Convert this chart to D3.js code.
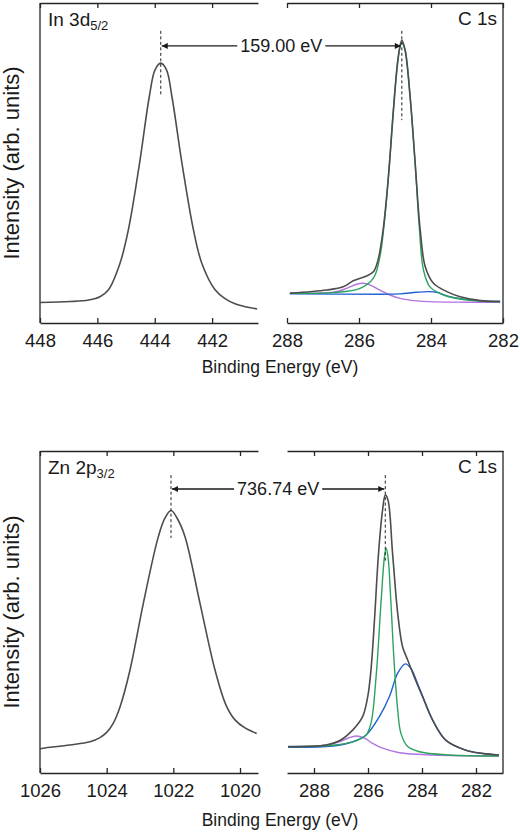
<!DOCTYPE html>
<html>
<head>
<meta charset="utf-8">
<script src="https://cdn.jsdelivr.net/npm/d3@7"></script>
<style>
  body { margin: 0; background: #fff; }
  text { font-family: "Liberation Sans", Arial, sans-serif; fill: #1a1a1a; }
</style>
</head>
<body>
<div id="chart"></div>
<script>
// Binding energy [eV], intensity (arb. units, 0-100 per row)
var in3d = [[448.0,6.4],[446.95,6.7],[446.3,7.2],[445.91,8.2],[445.62,10.3],[445.21,18.7],[444.92,29.1],
  [444.53,49.9],[444.19,70.7],[443.99,79.1],[443.79,81.2],[443.59,79.1],[443.40,70.7],
  [443.05,49.9],[442.65,29.1],[442.36,18.7],[441.89,10.3],[441.55,7.6],[441.2,6.0],[440.8,5.0],[440.43,4.4]];

var c1sTopEnv = [[287.92,9.3],[286.90,10.3],[286.44,11.3],[286.16,13.2],[285.79,14.7],[285.60,16.0],
  [285.47,19.7],[285.33,29.1],[285.19,44.7],[285.05,65.5],[284.91,83.2],[284.81,88.4],[284.72,85.3],
  [284.58,70.7],[284.44,49.9],[284.30,29.1],[284.16,17.6],[283.93,12.4],[283.56,9.8],[283.19,8.2],
  [282.63,7.0],[282.08,6.7]];
var c1sTopCC = [[287.92,9.3],[286.72,9.5],[285.97,10.8],[285.60,14.0],[285.42,20.7],[285.28,33.2],
  [285.14,52.0],[285.00,72.8],[284.86,86.3],[284.81,87.6],[284.72,85.3],[284.58,70.7],[284.44,49.9],
  [284.32,29.1],[284.21,16.6],[284.03,11.3],[283.65,8.75],[283.00,7.2],[282.08,6.7]];
var c1sTopLow = [[287.92,9.1],[285.33,9.0],[284.86,9.1],[284.40,9.6],[284.07,9.8],[283.84,9.6],
  [283.56,8.5],[283.19,7.6],[282.72,7.0],[282.08,6.7]];
var c1sTopHigh = [[287.92,9.3],[286.72,9.6],[286.35,10.8],[286.07,12.1],[285.88,12.4],[285.70,11.9],
  [285.42,10.3],[285.14,8.75],[284.86,7.7],[284.40,6.9],[283.93,6.6],[283.00,6.5],[282.08,6.5]];

var zn2p = [[1026.0,7.5],[1025.90,7.7],[1025.10,8.7],[1024.50,9.7],[1024.20,11.0],[1024.0,12.6],
  [1023.8,15.5],[1023.6,20.5],[1023.30,32.0],[1022.90,52.7],[1022.45,73.4],[1022.25,79.2],[1022.07,81.5],
  [1021.89,79.2],[1021.65,73.4],[1021.20,52.7],[1020.75,32.0],[1020.42,21.1],[1020.15,16.5],
  [1019.85,14.0],[1019.50,12.3]];

var c1sBotEnv = [[288.96,8.2],[287.55,8.7],[287.06,10.0],[286.56,13.4],[286.20,17.5],[286.01,23.7],
  [285.89,32.0],[285.76,47.5],[285.61,68.2],[285.46,81.7],[285.36,86.3],[285.26,84.8],[285.09,68.2],
  [284.90,49.6],[284.72,39.2],[284.53,35.1],[284.29,29.9],[283.98,23.7],[283.61,16.5],[283.12,10.2],
  [282.38,7.1],[281.77,6.1],[281.15,5.6]];
var c1sBotCC = [[288.96,8.2],[287.30,8.6],[286.44,10.0],[286.07,11.8],[285.89,15.4],[285.70,29.9],
  [285.52,52.7],[285.39,67.2],[285.33,69.8],[285.26,67.2],[285.15,52.7],[285.03,34.1],[284.90,19.6],
  [284.78,12.3],[284.53,8.2],[284.10,6.6],[283.0,5.6],[281.15,5.3]];
var c1sBotLow = [[288.96,8.0],[287.30,8.4],[286.56,9.7],[286.07,11.8],[285.58,17.5],[285.21,23.7],
  [284.90,31.0],[284.62,33.9],[284.41,32.5],[284.17,27.9],[283.92,22.7],[283.61,16.5],[283.12,10.2],
  [282.38,7.1],[281.77,6.1],[281.15,5.6]];
var c1sBotHigh = [[288.96,8.2],[287.55,8.6],[287.06,9.7],[286.75,10.8],[286.44,11.5],[286.13,10.8],
  [285.83,9.2],[285.46,7.7],[284.84,6.3],[283.61,5.6],[281.15,5.3]];

// tick values per panel
var topLeftTicks = [448, 446, 444, 442];
var topRightTicks = [288, 286, 284, 282];
var botLeftTicks = [1026, 1024, 1022, 1020];
var botRightTicks = [288, 286, 284, 282];

// peak markers and energy separations
var corePeaks = [443.79, 1022.07];
var carbonPeaks = [284.81, 285.36];
var shiftLabels = ["159.00 eV", "736.74 eV"];
var arrowLevels = [86.6, 88.2];
var dashTops = [91.3, 92.5];
var coreDashBottoms = [71.3, 73.0];
var carbonDashBottoms = [63.4, 65.2];
var coreLabels = [["In 3d", "5/2"], ["Zn 2p", "3/2"]];

var colors = { env: "#4d4d4d", cc: "#2ba35e", low: "#1f60d2", high: "#b273e3", axis: "#262626" };

var svg = d3.select("#chart").append("svg")
  .attr("width", 520).attr("height", 833);

var defs = svg.append("defs");
defs.append("marker")
  .attr("id", "arr")
  .attr("viewBox", "0 0 10 10")
  .attr("refX", 10).attr("refY", 5)
  .attr("markerWidth", 9).attr("markerHeight", 6)
  .attr("markerUnits", "userSpaceOnUse")
  .attr("orient", "auto-start-reverse")
  .append("path").attr("d", "M0,0L10,5L0,10z").attr("fill", "#1a1a1a");

// rows: vertical extent and panels
var rows = [
  { top: 3, bottom: 323, left: [448, 440.4], right: [288, 282],
    lt: topLeftTicks, rt: topRightTicks, core: in3d,
    comps: [c1sTopHigh, c1sTopLow, c1sTopCC], env: c1sTopEnv, xlabelY: 373 },
  { top: 451, bottom: 773, left: [1026, 1019.46], right: [289, 281],
    lt: botLeftTicks, rt: botRightTicks, core: zn2p,
    comps: [c1sBotHigh, c1sBotLow, c1sBotCC], env: c1sBotEnv, xlabelY: 826 }
];

var leftX = [40, 258], rightX = [287, 503];

rows.forEach(function(r, i) {
  var y = d3.scaleLinear().domain([0, 100]).range([r.bottom, r.top]);
  var xl = d3.scaleLinear().domain(r.left).range(leftX);
  var xr = d3.scaleLinear().domain(r.right).range(rightX);

  var g = svg.append("g");

  // axes
  [[xl, r.lt], [xr, r.rt]].forEach(function(p) {
    var gb = g.append("g").attr("transform", "translate(0," + r.bottom + ")")
      .call(d3.axisBottom(p[0]).tickValues(p[1]).tickFormat(d3.format("d"))
        .tickSizeInner(-5).tickSizeOuter(0).tickPadding(11));
    gb.selectAll("text").attr("font-size", "18.5px").attr("fill", "#1a1a1a")
      .style("font-family", "'Liberation Sans', Arial, sans-serif");
    var gt = g.append("g").attr("transform", "translate(0," + r.top + ")")
      .call(d3.axisTop(p[0]).tickValues(p[1]).tickSizeInner(-5).tickSizeOuter(0).tickFormat(""));
    [gb, gt].forEach(function(a) {
      a.select(".domain").attr("stroke", colors.axis).attr("stroke-width", 1.3);
      a.selectAll(".tick line").attr("stroke", colors.axis).attr("stroke-width", 1.3);
    });
  });
  g.append("line").attr("x1", leftX[0]).attr("x2", leftX[0]).attr("y1", r.top).attr("y2", r.bottom)
    .attr("stroke", colors.axis).attr("stroke-width", 1.3);
  g.append("line").attr("x1", rightX[1]).attr("x2", rightX[1]).attr("y1", r.top).attr("y2", r.bottom)
    .attr("stroke", colors.axis).attr("stroke-width", 1.3);

  var lineL = d3.line().x(function(d) { return xl(d[0]); }).y(function(d) { return y(d[1]); })
    .curve(d3.curveCatmullRom.alpha(0.5));
  var lineR = d3.line().x(function(d) { return xr(d[0]); }).y(function(d) { return y(d[1]); })
    .curve(d3.curveCatmullRom.alpha(0.5));

  g.append("path").datum(r.core).attr("d", lineL).attr("fill", "none")
    .attr("stroke", colors.env).attr("stroke-width", 1.6);

  var compColors = [colors.high, colors.low, colors.cc];
  r.comps.forEach(function(c, k) {
    g.append("path").datum(c).attr("d", lineR).attr("fill", "none")
      .attr("stroke", compColors[k]).attr("stroke-width", 1.4);
  });
  g.append("path").datum(r.env).attr("d", lineR).attr("fill", "none")
    .attr("stroke", colors.env).attr("stroke-width", 1.6);

  // dashed peak markers
  var xa = xl(corePeaks[i]), xb = xr(carbonPeaks[i]);
  g.append("line").attr("x1", xa).attr("x2", xa).attr("y1", y(dashTops[i])).attr("y2", y(coreDashBottoms[i]))
    .attr("stroke", "#222").attr("stroke-dasharray", "3,2.5").attr("stroke-width", 1);
  g.append("line").attr("x1", xb).attr("x2", xb).attr("y1", y(dashTops[i])).attr("y2", y(carbonDashBottoms[i]))
    .attr("stroke", "#222").attr("stroke-dasharray", "3,2.5").attr("stroke-width", 1);

  // separation arrow with label
  var ay = y(arrowLevels[i]);
  var mid = (xa + xb) / 2;
  var lab = g.append("text").attr("x", mid).attr("y", ay).attr("dy", "0.35em")
    .attr("text-anchor", "middle").attr("font-size", "18px").text(shiftLabels[i]);
  var half = lab.node().getComputedTextLength() / 2;
  g.append("line").attr("x1", mid - half - 3).attr("x2", xa + 1).attr("y1", ay).attr("y2", ay)
    .attr("stroke", "#1a1a1a").attr("stroke-width", 1.3).attr("marker-end", "url(#arr)");
  g.append("line").attr("x1", mid + half + 3).attr("x2", xb - 1).attr("y1", ay).attr("y2", ay)
    .attr("stroke", "#1a1a1a").attr("stroke-width", 1.3).attr("marker-end", "url(#arr)");

  // panel labels
  var t = g.append("text").attr("x", 48).attr("y", r.top + 23).attr("font-size", "19px");
  t.append("tspan").text(coreLabels[i][0]);
  t.append("tspan").attr("font-size", "13px").attr("dy", 4).text(coreLabels[i][1]);
  g.append("text").attr("x", 497).attr("y", r.top + 22).attr("text-anchor", "end")
    .attr("font-size", "19px").text("C 1s");

  // axis titles
  g.append("text").attr("x", 280).attr("y", r.xlabelY).attr("text-anchor", "middle")
    .attr("font-size", "17.5px").text("Binding Energy (eV)");
  g.append("text").attr("transform", "translate(19," + ((r.top + r.bottom) / 2) + ") rotate(-90)")
    .attr("text-anchor", "middle").attr("font-size", "22px").text("Intensity (arb. units)");
});
</script>
</body>
</html>
